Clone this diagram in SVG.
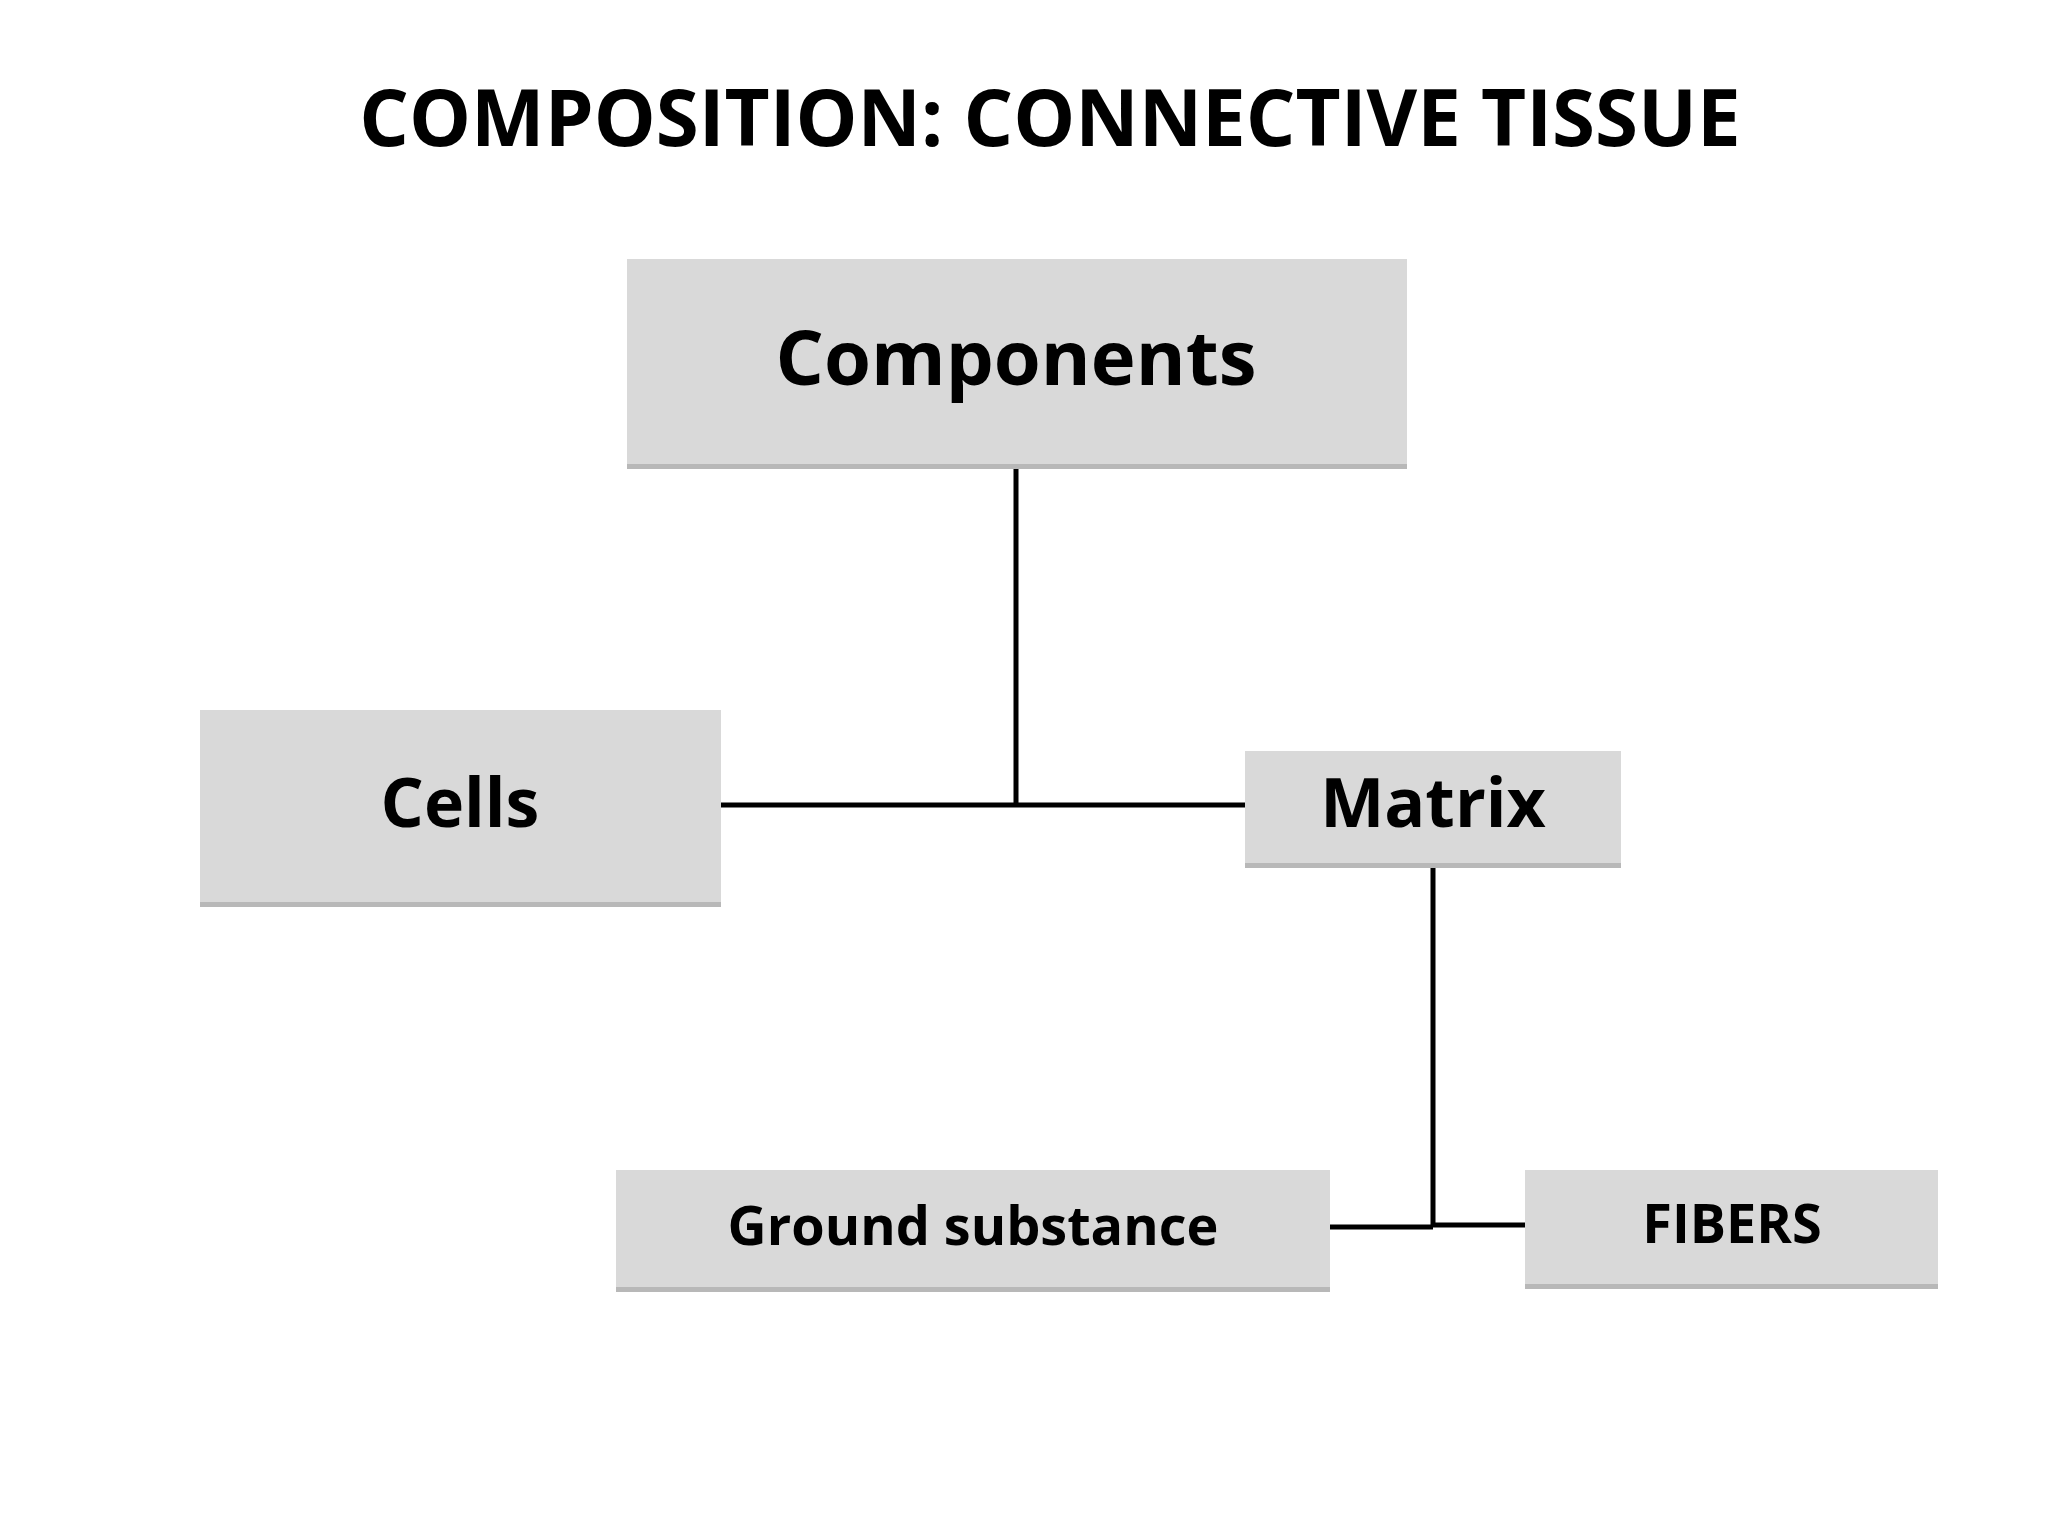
<svg xmlns="http://www.w3.org/2000/svg" width="2048" height="1536" viewBox="0 0 2048 1536">
<style>
.box{fill:#d9d9d9}
.sh{fill:#b8b8b8}
text{font-family:"Open Sans","Liberation Sans",sans-serif;font-weight:bold;fill:#000;text-anchor:middle}
.ln{stroke:#000;stroke-width:5;fill:none}
</style>
<rect width="2048" height="1536" fill="#fff"/>
<text x="1050" y="146" font-size="78">COMPOSITION: CONNECTIVE TISSUE</text>
<g id="connectors">
<path class="ln" d="M1016 466V805M721 805H1245M1433 865V1225M1330 1227H1433M1433 1225H1525"/>
</g>
<g id="components"><rect class="sh" x="627" y="262" width="780" height="207"/><rect class="box" x="627" y="259" width="780" height="205"/><text x="1016" y="385" font-size="76">Components</text></g>
<g id="cells"><rect class="sh" x="200" y="713" width="521" height="194"/><rect class="box" x="200" y="710" width="521" height="192"/><text x="460" y="827" font-size="68">Cells</text></g>
<g id="matrix"><rect class="sh" x="1245" y="754" width="376" height="114"/><rect class="box" x="1245" y="751" width="376" height="112"/><text x="1433" y="827" font-size="68">Matrix</text></g>
<g id="ground"><rect class="sh" x="616" y="1173" width="714" height="119"/><rect class="box" x="616" y="1170" width="714" height="117"/><text x="973" y="1245" font-size="54">Ground substance</text></g>
<g id="fibers"><rect class="sh" x="1525" y="1173" width="413" height="116"/><rect class="box" x="1525" y="1170" width="413" height="114"/><text x="1732" y="1243" font-size="54">FIBERS</text></g>
</svg>
